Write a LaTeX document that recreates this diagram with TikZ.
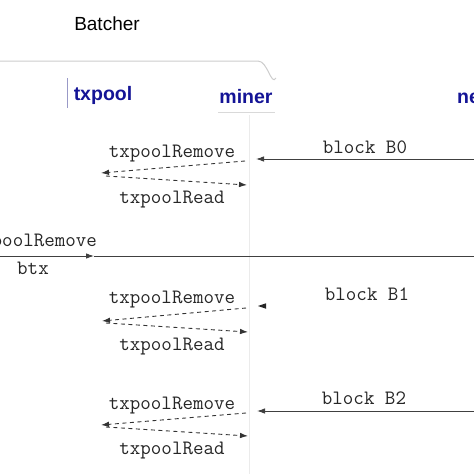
\documentclass[tikz,border=0pt]{standalone}
\usepackage{fontspec}
\setmainfont{Liberation Sans}
\usetikzlibrary{arrows.meta}
\definecolor{lblue}{RGB}{20,20,150}
\tikzset{
  x=1pt,y=-1pt,
  msg/.style={font=\ttfamily\fontsize{20.4}{21}\selectfont, text=black!85, inner sep=0pt},
  actor/.style={font=\bfseries\fontsize{19.5}{20}\selectfont, text=lblue, inner sep=0pt},
  solidarr/.style={draw=black!75, line width=0.9pt, -{Latex[length=8pt,width=5.5pt]}},
  dasharr/.style={draw=black!80, line width=0.9pt, dash pattern=on 4pt off 3.5pt, -{Latex[length=8pt,width=5.5pt]}},
}
\begin{document}
\begin{tikzpicture}
\useasboundingbox (0,0) rectangle (474,474);
\clip (0,0) rectangle (474,474);
% titles
\node[font=\fontsize{19}{20}\selectfont, inner sep=0pt] (batcher) at (107,24) {Batcher};
\draw[black!20, line width=1pt] (0,61) -- (258,61) to[out=0,in=-120] (276,78);
\node[actor] (txpool) at (103,95) {txpool};
\draw[black!55!blue!40, line width=1pt] (67,78) -- (67,108);
\node[actor] (miner) at (246,97) {miner};
\draw[black!15, line width=0.8pt] (218,112) -- (275,112);
\node[actor, anchor=west] (net) at (457,97) {network};
% lifeline
\coordinate (llt) at (249,115);
\coordinate (llb) at (249,474);
\draw[black!8, line width=1pt] (llt) -- (llb);

% group B0
\coordinate (b0s) at (474,159);
\coordinate (b0e) at (256,159);
\draw[solidarr] (b0s) -- (b0e);
\node[msg] (lb0) at (365,147) {block B0};
\node[msg] (r0) at (172,154) {txpoolRemove};
\coordinate (r0s) at (245,161);
\coordinate (r0e) at (101,173);
\draw[dasharr] (r0s) -- (r0e);
\coordinate (d0s) at (106,176);
\coordinate (d0e) at (247,185);
\draw[dasharr] (d0s) -- (d0e);
\node[msg] (rd0) at (172,200) {txpoolRead};

% btx line
\coordinate (bxs) at (0,256);
\coordinate (bxm) at (94,256);
\coordinate (bxe) at (474,256);
\draw[solidarr] (bxs) -- (bxm);
\draw[draw=black!75, line width=0.9pt] (bxm) -- (bxe);
\node[msg, anchor=east] (rx) at (97,243) {txpoolRemove};
\node[msg] (btx) at (33,268) {btx};

% group B1 (arrowhead only)
\coordinate (b1e) at (258,306);
\fill[black!85] (b1e) -- ++(8,-2.75) -- ++(0,5.5) -- cycle;
\node[msg] (lb1) at (367,294) {block B1};
\node[msg] (r1) at (172,300) {txpoolRemove};
\coordinate (r1s) at (246,308);
\coordinate (r1e) at (102,321);
\draw[dasharr] (r1s) -- (r1e);
\coordinate (d1s) at (106,323);
\coordinate (d1e) at (248,332);
\draw[dasharr] (d1s) -- (d1e);
\node[msg] (rd1) at (172,347) {txpoolRead};

% group B2
\coordinate (b2s) at (474,411);
\coordinate (b2e) at (257,411);
\draw[solidarr] (b2s) -- (b2e);
\node[msg] (lb2) at (364,398) {block B2};
\node[msg] (r2) at (172,406) {txpoolRemove};
\coordinate (r2s) at (246,413);
\coordinate (r2e) at (101,425);
\draw[dasharr] (r2s) -- (r2e);
\coordinate (d2s) at (106,427);
\coordinate (d2e) at (248,436);
\draw[dasharr] (d2s) -- (d2e);
\node[msg] (rd2) at (172,451) {txpoolRead};
\end{tikzpicture}
\end{document}
